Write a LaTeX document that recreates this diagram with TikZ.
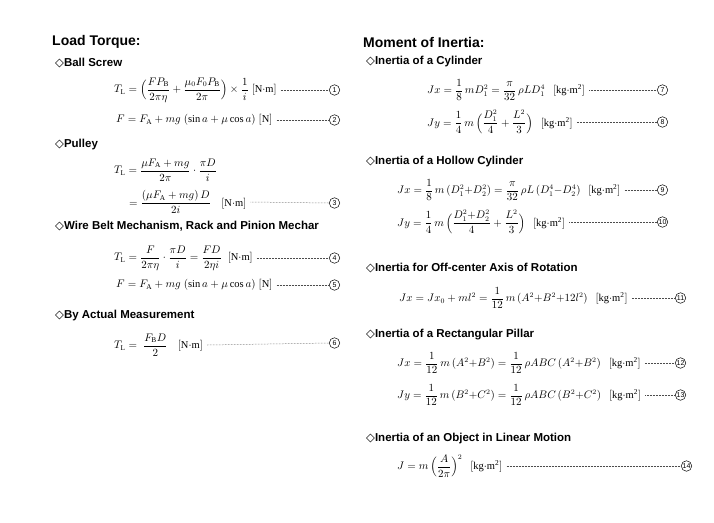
\documentclass[tikz,border=0pt]{standalone}
\usepackage{amsmath}
\usepackage{fontspec}
\setmainfont{Liberation Serif}
\newfontfamily\hd{Liberation Sans}
\newfontfamily\circfont{DejaVu Sans}
\begin{document}
\begin{tikzpicture}[x=1pt,y=-1pt,
 head/.style={anchor=west,inner sep=0pt,font=\hd\bfseries\fontsize{14}{16}\selectfont},
 sub/.style={anchor=west,inner sep=0pt,font=\hd\bfseries\fontsize{11.5}{13}\selectfont},
 eq/.style={anchor=west,inner sep=1pt,font=\fontsize{10.5}{12}\selectfont},
 num/.style={anchor=east,circle,draw,line width=0.5pt,inner sep=0pt,minimum size=10.5pt,font=\hd\fontsize{7}{8}\selectfont},
 lead/.style={draw=black!70,line width=0.5pt,densely dotted}]
\useasboundingbox (0,0) rectangle (714,522);
\def\N{\mathrm{[N{\cdot}m]}}
\def\K{\,\mathrm{[kg{\cdot}m^2]}}
\def\D{{\circfont ◇}}
% left column
\node[head] (h1) at (52,42) {Load Torque:};
\node[sub] (s1) at (55,63) {\D Ball Screw};
\node[eq] (e1) at (113,90) {$T_{\rm L}=\Bigl(\dfrac{FP_{\rm B}}{2\pi\eta}+\dfrac{\mu_0F_0P_{\rm B}}{2\pi}\Bigr)\times\dfrac{1}{i}\;\N$};
\node[num] (n1) at (340,90) {1};
\node[eq] (e2) at (115,120) {$F=F_{\rm A}+mg\;(\sin a+\mu\cos a)\;\mathrm{[N]}$};
\node[num] (n2) at (340,120) {2};
\node[sub] (s2) at (55,145) {\D Pulley};
\node[eq] (e3a) at (113,170) {$T_{\rm L}=\dfrac{\mu F_{\rm A}+mg}{2\pi}\cdot\dfrac{\pi D}{i}$};
\node[eq] (e3) at (128,202) {$=\dfrac{(\mu F_{\rm A}+mg)\,D}{2i}\quad\N$};
\node[num] (n3) at (340,203) {3};
\node[sub] (s3) at (55,226) {\D Wire Belt Mechanism, Rack and Pinion Mechar};
\node[eq] (e4) at (113,258) {$T_{\rm L}=\dfrac{F}{2\pi\eta}\cdot\dfrac{\pi D}{i}=\dfrac{FD}{2\eta i}\;\;\N$};
\node[num] (n4) at (340,258) {4};
\node[eq] (e5) at (115,285) {$F=F_{\rm A}+mg\;(\sin a+\mu\cos a)\;\mathrm{[N]}$};
\node[num] (n5) at (340,285) {5};
\node[sub] (s4) at (55,316) {\D By Actual Measurement};
\node[eq] (e6) at (113,345) {$T_{\rm L}=\;\dfrac{F_{\rm B}D}{2}\quad\N$};
\node[num] (n6) at (340,343) {6};
% right column
\node[head] (h2) at (363,42) {Moment of Inertia:};
\node[sub] (s5) at (366,62) {\D Inertia of a Cylinder};
\node[eq] (e7) at (426,90) {$Jx=\dfrac18\,mD_1^2=\dfrac{\pi}{32}\,\rho LD_1^4\;\;\K$};
\node[num] (n7) at (668,90) {7};
\node[eq] (e8) at (426,122) {$Jy=\dfrac14\,m\,\Bigl(\dfrac{D_1^2}{4}+\dfrac{L^2}{3}\Bigr)\;\;\K$};
\node[num] (n8) at (668,122) {8};
\node[sub] (s6) at (366,162) {\D Inertia of a Hollow Cylinder};
\node[eq] (e9) at (396,190) {$Jx=\dfrac18\,m\,(D_1^2{+}D_2^2)=\dfrac{\pi}{32}\,\rho L\,(D_1^4{-}D_2^4)\;\;\K$};
\node[num] (n9) at (668,190) {9};
\node[eq] (e10) at (396,222) {$Jy=\dfrac14\,m\,\Bigl(\dfrac{D_1^2{+}D_2^2}{4}+\dfrac{L^2}{3}\Bigr)\;\;\K$};
\node[num] (n10) at (668,222) {10};
\node[sub] (s7) at (366,268) {\D Inertia for Off-center Axis of Rotation};
\node[eq] (e11) at (398,298) {$Jx=Jx_0+ml^2=\dfrac{1}{12}\,m\,(A^2{+}B^2{+}12l^2)\;\;\K$};
\node[num] (n11) at (686,298) {11};
\node[sub] (s8) at (366,335) {\D Inertia of a Rectangular Pillar};
\node[eq] (e12) at (396,363) {$Jx=\dfrac{1}{12}\,m\,(A^2{+}B^2)=\dfrac{1}{12}\,\rho ABC\,(A^2{+}B^2)\;\;\K$};
\node[num] (n12) at (686,363) {12};
\node[eq] (e13) at (396,395) {$Jy=\dfrac{1}{12}\,m\,(B^2{+}C^2)=\dfrac{1}{12}\,\rho ABC\,(B^2{+}C^2)\;\;\K$};
\node[num] (n13) at (686,395) {13};
\node[sub] (s9) at (366,439) {\D Inertia of an Object in Linear Motion};
\node[eq] (e14) at (396,466) {$J=m\,\Bigl(\dfrac{A}{2\pi}\Bigr)^2\;\;\K$};
\node[num] (n14) at (692,466) {14};
\foreach \a/\b in {e1/n1,e2/n2,e3/n3,e4/n4,e5/n5,e6/n6,e7/n7,e8/n8,e9/n9,e10/n10,e11/n11,e12/n12,e13/n13,e14/n14}
  \draw[lead] ([xshift=3pt]\a.east) -- (\b.west);
\end{tikzpicture}
\end{document}
